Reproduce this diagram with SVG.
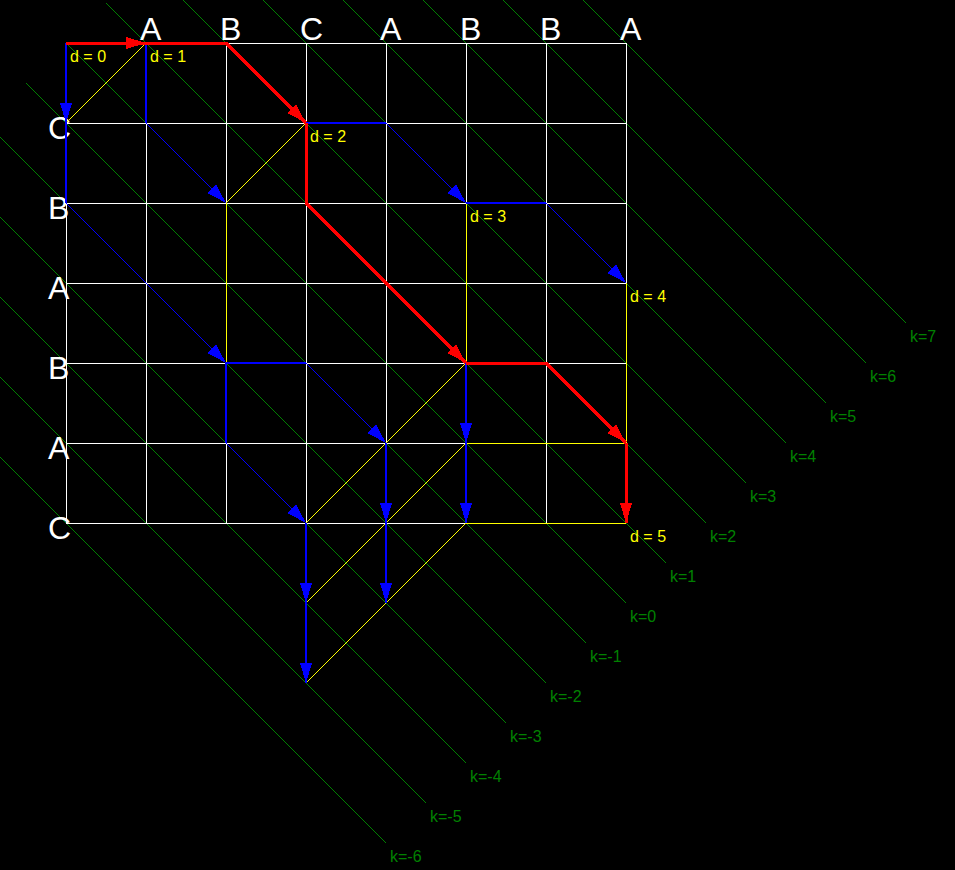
<svg xmlns="http://www.w3.org/2000/svg" width="955" height="870" viewBox="0 0 955 870">
<defs>
<style>
line,polyline,path{shape-rendering:crispEdges}
.k{stroke:#008000;stroke-width:1;fill:none}
.kt{fill:#008000;font-family:"Liberation Sans",Arial,sans-serif;font-size:16px}
.g{stroke:#ffffff;stroke-width:1;fill:none}
.y{stroke:#ffff00;stroke-width:1;fill:none}
.yt{fill:#ffff00;font-family:"Liberation Sans",Arial,sans-serif;font-size:16px}
.lt{fill:#ffffff;font-family:"Liberation Sans",Arial,sans-serif;font-size:32px}
.r{stroke:#ff0000;stroke-width:3;fill:none}
.bm{stroke:#0000ff;stroke-width:2;fill:none}
.bs{stroke:#0000ff;stroke-width:1;fill:none}
</style>
<marker id="ar" markerUnits="userSpaceOnUse" markerWidth="20" markerHeight="12" refX="20" refY="6" orient="auto" viewBox="0 0 20 12">
<path d="M0,0 L20,6 L0,12 z" fill="#ff0000"/>
</marker>
<marker id="ab" markerUnits="userSpaceOnUse" markerWidth="20" markerHeight="12" refX="20" refY="6" orient="auto" viewBox="0 0 20 12">
<path d="M0,0 L20,6 L0,12 z" fill="#0000ff"/>
</marker>
</defs>
<rect x="0" y="0" width="955" height="870" fill="#000000"/>
<g id="k-lines">
<line class="k" x1="-174" y1="283" x2="386" y2="843"/>
<line class="k" x1="-134" y1="243" x2="426" y2="803"/>
<line class="k" x1="-94" y1="203" x2="466" y2="763"/>
<line class="k" x1="-54" y1="163" x2="506" y2="723"/>
<line class="k" x1="-14" y1="123" x2="546" y2="683"/>
<line class="k" x1="26" y1="83" x2="586" y2="643"/>
<line class="k" x1="66" y1="43" x2="626" y2="603"/>
<line class="k" x1="106" y1="3" x2="666" y2="563"/>
<line class="k" x1="146" y1="-37" x2="706" y2="523"/>
<line class="k" x1="186" y1="-77" x2="746" y2="483"/>
<line class="k" x1="226" y1="-117" x2="786" y2="443"/>
<line class="k" x1="266" y1="-157" x2="826" y2="403"/>
<line class="k" x1="306" y1="-197" x2="866" y2="363"/>
<line class="k" x1="346" y1="-237" x2="906" y2="323"/>
</g>
<g id="k-labels">
<text class="kt" x="390" y="862">k=-6</text>
<text class="kt" x="430" y="822">k=-5</text>
<text class="kt" x="470" y="782">k=-4</text>
<text class="kt" x="510" y="742">k=-3</text>
<text class="kt" x="550" y="702">k=-2</text>
<text class="kt" x="590" y="662">k=-1</text>
<text class="kt" x="630" y="622">k=0</text>
<text class="kt" x="670" y="582">k=1</text>
<text class="kt" x="710" y="542">k=2</text>
<text class="kt" x="750" y="502">k=3</text>
<text class="kt" x="790" y="462">k=4</text>
<text class="kt" x="830" y="422">k=5</text>
<text class="kt" x="870" y="382">k=6</text>
<text class="kt" x="910" y="342">k=7</text>
</g>
<g id="grid">
<path class="g" d="M66,43H626M66,123H626M66,203H626M66,283H626M66,363H626M66,443H626M66,523H626M66,43V523M146,43V523M226,43V523M306,43V523M386,43V523M466,43V523M546,43V523M626,43V523"/>
</g>
<g id="axis-labels">
<text class="lt" x="140" y="40">A</text>
<text class="lt" x="220" y="40">B</text>
<text class="lt" x="300" y="40">C</text>
<text class="lt" x="380" y="40">A</text>
<text class="lt" x="460" y="40">B</text>
<text class="lt" x="540" y="40">B</text>
<text class="lt" x="620" y="40">A</text>
<text class="lt" x="48" y="139">C</text>
<text class="lt" x="48" y="219">B</text>
<text class="lt" x="48" y="299">A</text>
<text class="lt" x="48" y="379">B</text>
<text class="lt" x="48" y="459">A</text>
<text class="lt" x="48" y="539">C</text>
</g>
<g id="d-contours">
<polyline class="y" points="66,123 146,43"/>
<polyline class="y" points="226,363 226,203 306,123"/>
<polyline class="y" points="306,523 386,443 466,363 466,203"/>
<polyline class="y" points="306,603 386,523 466,443 626,443 626,283"/>
<polyline class="y" points="306,683 386,603 466,523 626,523"/>
</g>
<g id="connectors">
<line class="bm" x1="66" y1="43" x2="66" y2="123" marker-end="url(#ab)"/>
<line class="bm" x1="146" y1="43" x2="146" y2="123"/>
<line class="bs" x1="146" y1="123" x2="226" y2="203" marker-end="url(#ab)"/>
<line class="bm" x1="66" y1="123" x2="66" y2="203"/>
<line class="bs" x1="66" y1="203" x2="226" y2="363" marker-end="url(#ab)"/>
<line class="bm" x1="306" y1="123" x2="386" y2="123"/>
<line class="bs" x1="386" y1="123" x2="466" y2="203" marker-end="url(#ab)"/>
<line class="bm" x1="466" y1="203" x2="546" y2="203"/>
<line class="bs" x1="546" y1="203" x2="626" y2="283" marker-end="url(#ab)"/>
<line class="bm" x1="226" y1="363" x2="226" y2="443"/>
<line class="bs" x1="226" y1="443" x2="306" y2="523" marker-end="url(#ab)"/>
<line class="bm" x1="226" y1="363" x2="306" y2="363"/>
<line class="bs" x1="306" y1="363" x2="386" y2="443" marker-end="url(#ab)"/>
<line class="bm" x1="466" y1="363" x2="466" y2="443" marker-end="url(#ab)"/>
<line class="bm" x1="466" y1="443" x2="466" y2="523" marker-end="url(#ab)"/>
<line class="bm" x1="386" y1="443" x2="386" y2="523" marker-end="url(#ab)"/>
<line class="bm" x1="386" y1="523" x2="386" y2="603" marker-end="url(#ab)"/>
<line class="bm" x1="306" y1="523" x2="306" y2="603" marker-end="url(#ab)"/>
<line class="bm" x1="306" y1="603" x2="306" y2="683" marker-end="url(#ab)"/>
<line class="r" x1="66" y1="43" x2="146" y2="43" marker-end="url(#ar)"/>
<polyline class="r" points="146,43 226,43 306,123" marker-end="url(#ar)"/>
<polyline class="r" points="306,123 306,203 466,363" marker-end="url(#ar)"/>
<polyline class="r" points="466,363 546,363 626,443" marker-end="url(#ar)"/>
<line class="r" x1="626" y1="443" x2="626" y2="523" marker-end="url(#ar)"/>
</g>
<g id="d-labels">
<text class="yt" x="70" y="62">d = 0</text>
<text class="yt" x="150" y="62">d = 1</text>
<text class="yt" x="310" y="142">d = 2</text>
<text class="yt" x="470" y="222">d = 3</text>
<text class="yt" x="630" y="302">d = 4</text>
<text class="yt" x="630" y="542">d = 5</text>
</g>
</svg>
